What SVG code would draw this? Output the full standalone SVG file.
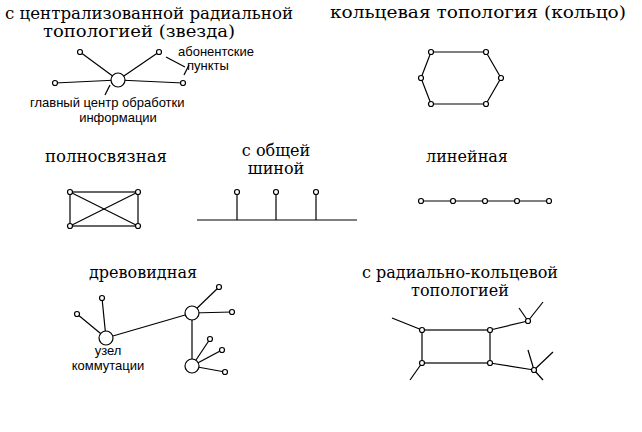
<svg xmlns="http://www.w3.org/2000/svg" width="642" height="432" viewBox="0 0 642 432">
<style>
.t{font-family:"DejaVu Serif","Liberation Serif",serif;font-size:16px;fill:#000}
.s{font-family:"Liberation Sans Narrow","Liberation Sans",sans-serif;font-size:13px;fill:#000}
.e{stroke:#000;stroke-width:1.2;fill:none}
circle{stroke:#000;stroke-width:1.2;fill:#fff}
</style>
<rect x="0" y="0" width="642" height="432" fill="#fff"/>
<g id="connectors" class="e">
<line x1="80" y1="52" x2="118" y2="80"/><line x1="159" y1="52" x2="118" y2="80"/>
<line x1="55" y1="83" x2="118" y2="80"/><line x1="183" y1="83" x2="118" y2="80"/>
<line x1="166" y1="57" x2="185" y2="67"/><line x1="189" y1="65" x2="184" y2="75"/>
<line x1="110" y1="85" x2="105" y2="95"/>
<polygon points="421,78 431,52 486,52 501,78 486,104 431,104"/>
<rect x="70" y="192" width="68" height="34"/><line x1="70" y1="192" x2="138" y2="226"/><line x1="138" y1="192" x2="70" y2="226"/>
<line x1="197" y1="220" x2="357" y2="220"/>
<line x1="237" y1="194" x2="237" y2="220"/><line x1="276" y1="194" x2="276" y2="220"/><line x1="316" y1="194" x2="316" y2="220"/>
<line x1="421" y1="201" x2="549" y2="201"/>
<line x1="106" y1="338" x2="102" y2="298"/><line x1="106" y1="338" x2="77" y2="314"/>
<line x1="106" y1="338" x2="192" y2="313"/><line x1="192" y1="313" x2="192" y2="366"/>
<line x1="192" y1="313" x2="219" y2="287"/><line x1="192" y1="313" x2="232" y2="312"/>
<line x1="192" y1="366" x2="210" y2="339"/><line x1="192" y1="366" x2="222" y2="350"/><line x1="192" y1="366" x2="225" y2="372"/>
<rect x="422" y="330" width="68" height="33"/>
<line x1="392" y1="318" x2="422" y2="330"/><line x1="410" y1="380" x2="422" y2="363"/>
<line x1="490" y1="330" x2="528" y2="321"/><line x1="528" y1="321" x2="543" y2="302"/><line x1="528" y1="321" x2="519" y2="308"/>
<line x1="490" y1="363" x2="534" y2="370"/><line x1="534" y1="370" x2="528" y2="350"/><line x1="534" y1="370" x2="553" y2="352"/><line x1="534" y1="370" x2="543" y2="380"/>
</g>
<g id="star">
<text class="t" x="5" y="19" textLength="288" lengthAdjust="spacingAndGlyphs">с централизованной радиальной</text>
<text class="t" x="43" y="37" textLength="192" lengthAdjust="spacingAndGlyphs">топологией (звезда)</text>
<text class="s" x="178" y="56">абонентские</text><text class="s" x="187" y="70">пункты</text>
<text class="s" x="30" y="107">главный центр обработки</text><text class="s" x="118" y="122" text-anchor="middle">информации</text>
<circle cx="118" cy="80" r="7"/>
<circle cx="80" cy="52" r="2.5"/><circle cx="159" cy="52" r="2.5"/><circle cx="55" cy="83" r="2.5"/><circle cx="183" cy="83" r="2.5"/>
</g>
<g id="ring">
<text class="t" x="330" y="18" textLength="296" lengthAdjust="spacingAndGlyphs">кольцевая топология (кольцо)</text>
<circle cx="421" cy="78" r="2.5"/><circle cx="431" cy="52" r="2.5"/><circle cx="486" cy="52" r="2.5"/><circle cx="501" cy="78" r="2.5"/><circle cx="486" cy="104" r="2.5"/><circle cx="431" cy="104" r="2.5"/>
</g>
<g id="mesh">
<text class="t" x="45" y="162" textLength="122" lengthAdjust="spacingAndGlyphs">полносвязная</text>
<circle cx="70" cy="192" r="2.5"/><circle cx="138" cy="192" r="2.5"/><circle cx="70" cy="226" r="2.5"/><circle cx="138" cy="226" r="2.5"/>
</g>
<g id="bus">
<text class="t" x="276" y="156" text-anchor="middle">с общей</text><text class="t" x="276" y="174" text-anchor="middle">шиной</text>
<circle cx="237" cy="192" r="2.5"/><circle cx="276" cy="192" r="2.5"/><circle cx="316" cy="192" r="2.5"/>
</g>
<g id="linear">
<text class="t" x="467" y="162" text-anchor="middle">линейная</text>
<circle cx="421" cy="201" r="2.5"/><circle cx="453" cy="201" r="2.5"/><circle cx="485" cy="201" r="2.5"/><circle cx="517" cy="201" r="2.5"/><circle cx="549" cy="201" r="2.5"/>
</g>
<g id="tree">
<text class="t" x="143" y="278" text-anchor="middle">древовидная</text>
<text class="s" x="108" y="355" text-anchor="middle">узел</text><text class="s" x="108" y="370" text-anchor="middle">коммутации</text>
<circle cx="106" cy="338" r="7"/><circle cx="192" cy="313" r="7"/><circle cx="192" cy="366" r="7"/>
<circle cx="102" cy="298" r="2.5"/><circle cx="77" cy="314" r="2.5"/><circle cx="219" cy="287" r="2.5"/><circle cx="232" cy="312" r="2.5"/>
<circle cx="210" cy="339" r="2.5"/><circle cx="222" cy="350" r="2.5"/><circle cx="225" cy="372" r="2.5"/>
</g>
<g id="radialring">
<text class="t" x="460" y="278" text-anchor="middle">с радиально-кольцевой</text><text class="t" x="460" y="296" text-anchor="middle">топологией</text>
<circle cx="422" cy="330" r="2.5"/><circle cx="490" cy="330" r="2.5"/><circle cx="422" cy="363" r="2.5"/><circle cx="490" cy="363" r="2.5"/>
<circle cx="528" cy="321" r="2.5"/><circle cx="534" cy="370" r="2.5"/>
</g>
</svg>
